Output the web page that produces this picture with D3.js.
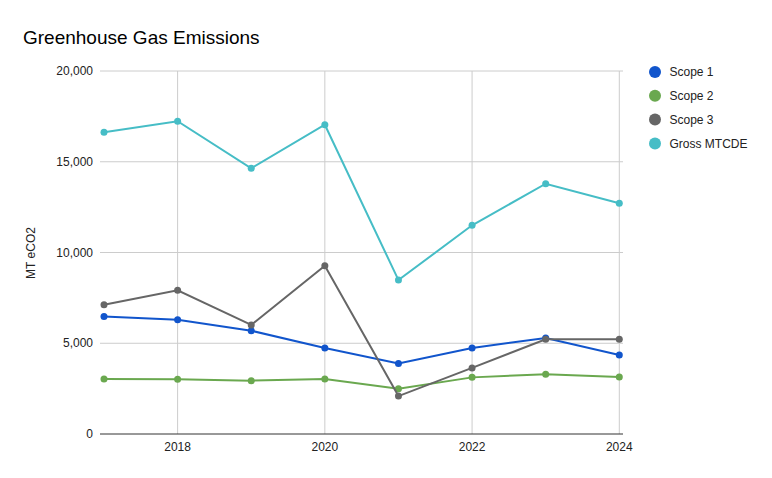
<!DOCTYPE html>
<html>
<head>
<meta charset="utf-8">
<script src="https://cdn.jsdelivr.net/npm/d3@7"></script>
<style>
  body { margin: 0; background: #fff; }
  svg { display: block; font-family: Arial, "Liberation Sans", sans-serif; }
</style>
</head>
<body>
<div id="chart"></div>
<script>
// Données
const years = [2017, 2018, 2019, 2020, 2021, 2022, 2023, 2024];
const scope1 = [6480, 6300, 5690, 4740, 3890, 4740, 5290, 4350];
const scope2 = [3030, 3010, 2940, 3030, 2500, 3120, 3290, 3140];
const scope3 = [7120, 7920, 6010, 9270, 2090, 3640, 5220, 5220];
const gross = [16630, 17230, 14640, 17040, 8480, 11500, 13790, 12710];
const xTicks = [2018, 2020, 2022, 2024];
const yTicks = [0, 5000, 10000, 15000, 20000];

const series = [
    { name: "Scope 1", values: scope1, color: "#1155cc" },
    { name: "Scope 2", values: scope2, color: "#6aa84f" },
    { name: "Scope 3", values: scope3, color: "#666666" },
    { name: "Gross MTCDE", values: gross, color: "#46bdc6" }
];

const W = 772, H = 478;
const svg = d3.select("#chart").append("svg")
    .attr("width", W)
    .attr("height", H);

const x = d3.scaleLinear().domain([2017, 2024]).range([104, 619.3]);
const y = d3.scaleLinear().domain([0, 20000]).range([434, 71]);

// Titre
svg.append("text")
    .attr("x", 23)
    .attr("y", 44)
    .attr("font-size", 19)
    .attr("fill", "#000")
    .text("Greenhouse Gas Emissions");

// Grille horizontale
svg.selectAll(".hgrid")
    .data(yTicks.filter(d => d > 0))
    .enter().append("line")
    .attr("x1", 100).attr("x2", 623)
    .attr("y1", d => y(d)).attr("y2", d => y(d))
    .attr("stroke", "#cccccc").attr("stroke-width", 1);

// Grille verticale
svg.selectAll(".vgrid")
    .data(xTicks)
    .enter().append("line")
    .attr("x1", d => x(d)).attr("x2", d => x(d))
    .attr("y1", 71).attr("y2", 434)
    .attr("stroke", "#cccccc").attr("stroke-width", 1);

// Axe de base
svg.append("line")
    .attr("x1", 100).attr("x2", 623)
    .attr("y1", y(0)).attr("y2", y(0))
    .attr("stroke", "#333").attr("stroke-width", 1);

// Libellés Y
svg.selectAll(".ylab")
    .data(yTicks)
    .enter().append("text")
    .attr("x", 93)
    .attr("y", d => y(d) + 4)
    .attr("text-anchor", "end")
    .attr("font-size", 12)
    .attr("fill", "#222")
    .text(d => d3.format(",")(d));

// Libellés X
svg.selectAll(".xlab")
    .data(xTicks)
    .enter().append("text")
    .attr("x", d => x(d))
    .attr("y", 451)
    .attr("text-anchor", "middle")
    .attr("font-size", 12)
    .attr("fill", "#222")
    .text(d => d);

// Titre axe Y
svg.append("text")
    .attr("transform", "translate(35,253) rotate(-90)")
    .attr("text-anchor", "middle")
    .attr("font-size", 12)
    .attr("fill", "#222")
    .text("MT eCO2");

// Lignes
const line = d3.line()
    .x((d, i) => x(years[i]))
    .y(d => y(d));

series.forEach(s => {
    const g = svg.append("g");
    g.append("path")
        .attr("d", line(s.values))
        .attr("fill", "none")
        .attr("stroke", s.color)
        .attr("stroke-width", 2);
    g.selectAll("circle")
        .data(s.values)
        .enter().append("circle")
        .attr("cx", (d, i) => x(years[i]))
        .attr("cy", d => y(d))
        .attr("r", 3.5)
        .attr("fill", s.color);
});

// Légende
const legend = svg.selectAll(".legend")
    .data(series)
    .enter().append("g")
    .attr("transform", (d, i) => `translate(655,${72 + i * 23.8})`);
legend.append("circle")
    .attr("r", 6)
    .attr("fill", d => d.color);
legend.append("text")
    .attr("x", 14.5)
    .attr("y", 4.3)
    .attr("font-size", 12)
    .attr("fill", "#222")
    .text(d => d.name);
</script>
</body>
</html>
